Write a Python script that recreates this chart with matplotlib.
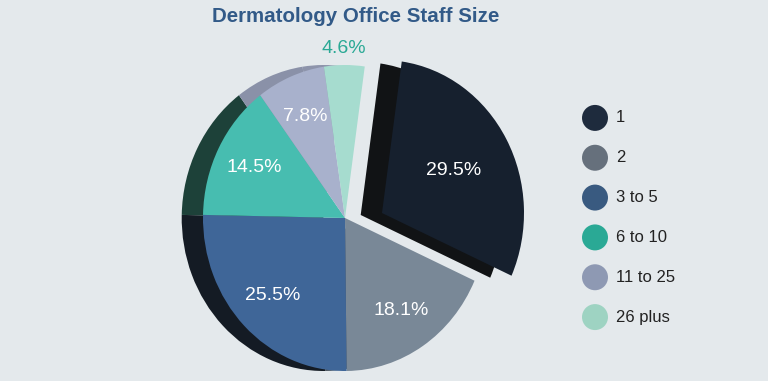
import numpy as np
import matplotlib.pyplot as plt

categories = ["1", "2", "3 to 5", "6 to 10", "11 to 25", "26 plus"]
shares = [29.5, 18.1, 25.5, 14.5, 7.8, 4.6]
title = "Dermatology Office Staff Size"

face_colors = ["#16202e", "#798897", "#3f6698", "#47bdb0", "#a8b1cc", "#a6dccf"]
side_colors = ["#111315", "#4a5560", "#141b24", "#1d4139", "#8a91a8", "#8d94ab"]
legend_colors = ["#1e2b3d", "#66707c", "#395a80", "#2aa995", "#8e99b3", "#9ed3c2"]
bg = "#e4e9ec"

W, H = 768, 381
fig = plt.figure(figsize=(W / 100, H / 100), dpi=100, facecolor=bg)
plt.rcParams['font.family'] = ['Liberation Sans', 'DejaVu Sans']

# pie geometry (pixels)
cx, cy, rx, ry = 345, 218, 142, 153
ax = fig.add_axes([0, 0, 1, 1])
ax.set_facecolor(bg)

depth = 0.15
side, _ = ax.pie(shares, colors=side_colors, startangle=82, counterclock=False,
                 center=(-depth, 0), radius=1, wedgeprops=dict(linewidth=0))
face, _ = ax.pie(shares, colors=face_colors, startangle=82, counterclock=False,
                 center=(0, 0), radius=1, wedgeprops=dict(linewidth=0))

# exploded first slice
ex_center = ((382 - cx) / rx, (cy - 213) / ry)
face[0].set_center(ex_center)
side[0].set_center((ex_center[0] - depth, ex_center[1] - 0.013))
for w in side:
    w.set_zorder(1)
for w in face:
    w.set_zorder(2)

ax.set_aspect('auto')
ax.set_xlim((0 - cx) / rx, (W - cx) / rx)
ax.set_ylim((cy - H) / ry, (cy - 0) / ry)
ax.axis('off')

for i, (w, v) in enumerate(zip(face, shares)):
    mid = np.deg2rad((w.theta1 + w.theta2) / 2)
    c = w.center
    if i == 0:
        d, col = 0.58, "white"
    elif v < 6:
        d, col = 1.105, "#2aa995"
    else:
        d, col = 0.72, "white"
    ax.text(c[0] + d * np.cos(mid), c[1] + d * np.sin(mid), f"{v:.1f}%",
            ha='center', va='center', color=col, fontsize=14, zorder=5)

fig.text(356 / W, 1 - 16 / H, title, ha='center', va='center',
         fontsize=14.8, fontweight='bold', color="#325a88")

# legend
lax = fig.add_axes([580 / W, (H - 337) / H, 140 / W, 239 / H])
lax.set_xlim(0, 1)
lax.set_ylim(len(categories) - 0.5, -0.5)
lax.axis('off')
ys = np.arange(len(categories))
lax.scatter(np.full(len(ys), 15 / 140), ys, s=350, c=legend_colors, linewidths=0)
for y, lab in zip(ys, categories):
    lax.text(36 / 140, y, lab, ha='left', va='center', fontsize=12, color="#222222")

fig.savefig("out.png", dpi=100, facecolor=bg)
